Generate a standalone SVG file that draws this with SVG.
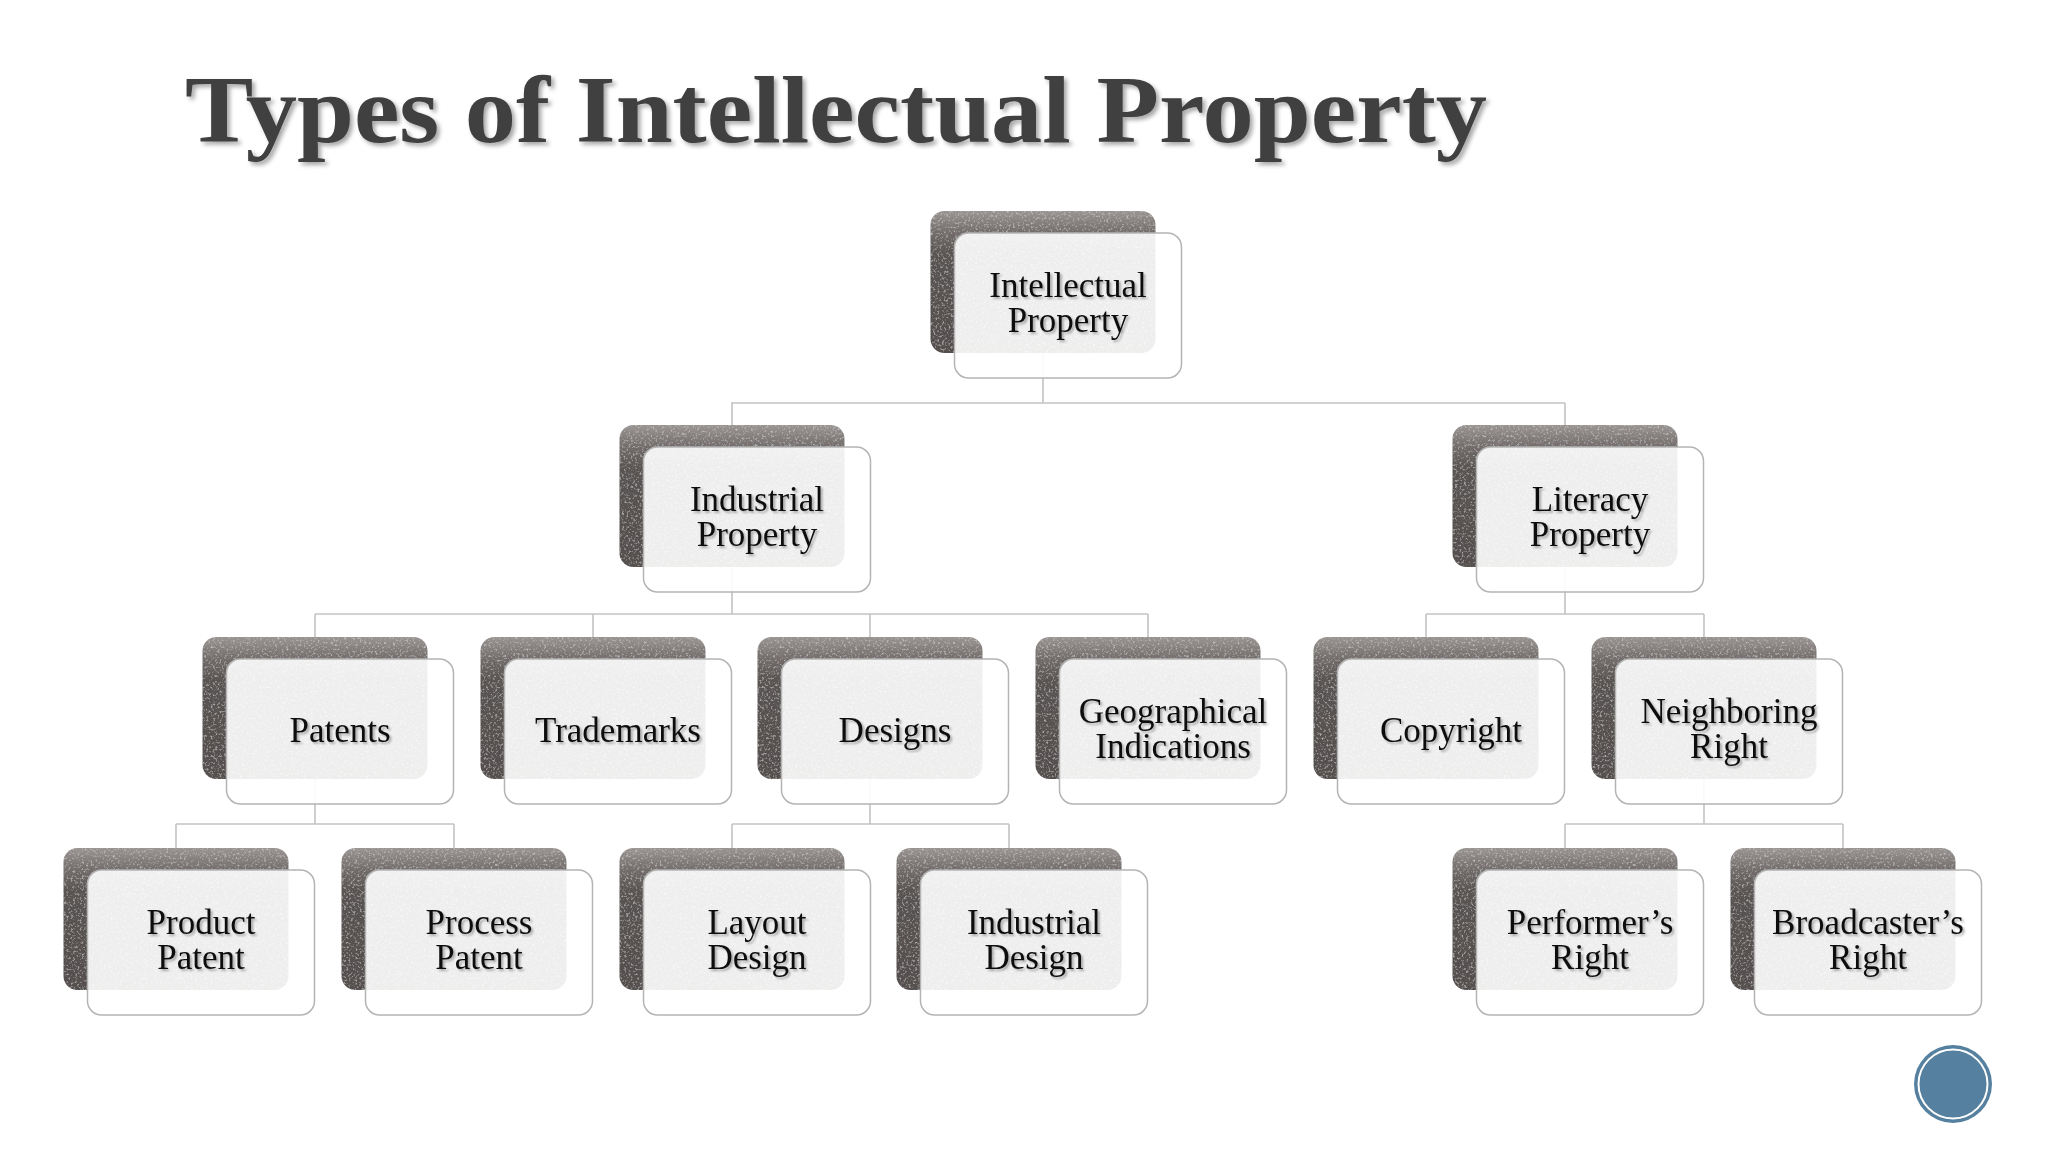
<svg xmlns="http://www.w3.org/2000/svg" width="2048" height="1152" viewBox="0 0 2048 1152">
<defs>
  <linearGradient id="backGrad" x1="0" y1="0" x2="0" y2="1">
    <stop offset="0" stop-color="#9a9493"/>
    <stop offset="0.15" stop-color="#736d6c"/>
    <stop offset="0.3" stop-color="#5a5453"/>
    <stop offset="1" stop-color="#554f4e"/>
  </linearGradient>
  <filter id="granite" x="0" y="0" width="1" height="1">
    <feTurbulence type="fractalNoise" baseFrequency="0.45" numOctaves="2" seed="7" result="n"/>
    <feColorMatrix in="n" type="matrix" values="0 0 0 0 1  0 0 0 0 1  0 0 0 0 1  3 0 0 0 -1.6" result="speck"/>
    <feComposite in="speck" in2="SourceAlpha" operator="in" result="speckIn"/>
    <feComponentTransfer in="speckIn" result="speckSoft">
      <feFuncA type="linear" slope="0.4"/>
    </feComponentTransfer>
    <feMerge>
      <feMergeNode in="SourceGraphic"/>
      <feMergeNode in="speckSoft"/>
    </feMerge>
  </filter>
  <filter id="txtShadow" x="-10%" y="-30%" width="120%" height="160%">
    <feDropShadow dx="2" dy="2" stdDeviation="1.2" flood-color="#000" flood-opacity="0.3"/>
  </filter>
  <filter id="titleShadow" x="-5%" y="-30%" width="110%" height="160%">
    <feDropShadow dx="3" dy="3" stdDeviation="2" flood-color="#000" flood-opacity="0.35"/>
  </filter>
  <style>
    .back { fill: url(#backGrad); filter: url(#granite); }
    .front { fill: #ffffff; fill-opacity: 0.9; stroke: #b4b4b4; stroke-width: 1.5; }
    .lbl { font-family: "Liberation Serif", "Times New Roman", serif; font-size: 35px; fill: #111111; text-anchor: middle; filter: url(#txtShadow); }
    .conn { fill: none; stroke: #c3c3c3; stroke-width: 1.6; }
    .title { font-family: "Liberation Serif", "Times New Roman", serif; font-weight: bold; font-size: 96px; fill: #404040; filter: url(#titleShadow); }
  </style>
</defs>

<rect x="0" y="0" width="2048" height="1152" fill="#ffffff"/>

<text class="title" x="185" y="142" textLength="1302" lengthAdjust="spacingAndGlyphs">Types of Intellectual Property</text>

<g id="connectors">
  <path class="conn" d="M1043 353 V403 M731 403 H1565 M732 403 V425 M1565 403 V425"/>
  <path class="conn" d="M732 568 V614 M315 614 H1148 M315 614 V637 M593 614 V637 M870 614 V637 M1148 614 V637"/>
  <path class="conn" d="M1565 568 V614 M1426 614 H1704 M1426 614 V637 M1704 614 V637"/>
  <path class="conn" d="M315 778 V824 M176 824 H454 M176 824 V848 M454 824 V848"/>
  <path class="conn" d="M870 778 V824 M732 824 H1009 M732 824 V848 M1009 824 V848"/>
  <path class="conn" d="M1704 778 V824 M1565 824 H1843 M1565 824 V848 M1843 824 V848"/>
</g>

<g id="node-intellectual-property">
  <rect class="back" x="930.5" y="211" width="225" height="142" rx="14"/>
  <rect class="front" x="954.5" y="233" width="227" height="145" rx="14"/>
  <text class="lbl" x="1068" y="297">Intellectual</text>
  <text class="lbl" x="1068" y="332">Property</text>
</g>

<g id="node-industrial-property">
  <rect class="back" x="619.5" y="425" width="225" height="142" rx="14"/>
  <rect class="front" x="643.5" y="447" width="227" height="145" rx="14"/>
  <text class="lbl" x="757" y="511">Industrial</text>
  <text class="lbl" x="757" y="546">Property</text>
</g>

<g id="node-literacy-property">
  <rect class="back" x="1452.5" y="425" width="225" height="142" rx="14"/>
  <rect class="front" x="1476.5" y="447" width="227" height="145" rx="14"/>
  <text class="lbl" x="1590" y="511">Literacy</text>
  <text class="lbl" x="1590" y="546">Property</text>
</g>

<g id="node-patents">
  <rect class="back" x="202.5" y="637" width="225" height="142" rx="14"/>
  <rect class="front" x="226.5" y="659" width="227" height="145" rx="14"/>
  <text class="lbl" x="340" y="742">Patents</text>
</g>

<g id="node-trademarks">
  <rect class="back" x="480.5" y="637" width="225" height="142" rx="14"/>
  <rect class="front" x="504.5" y="659" width="227" height="145" rx="14"/>
  <text class="lbl" x="618" y="742">Trademarks</text>
</g>

<g id="node-designs">
  <rect class="back" x="757.5" y="637" width="225" height="142" rx="14"/>
  <rect class="front" x="781.5" y="659" width="227" height="145" rx="14"/>
  <text class="lbl" x="895" y="742">Designs</text>
</g>

<g id="node-geographical-indications">
  <rect class="back" x="1035.5" y="637" width="225" height="142" rx="14"/>
  <rect class="front" x="1059.5" y="659" width="227" height="145" rx="14"/>
  <text class="lbl" x="1173" y="723">Geographical</text>
  <text class="lbl" x="1173" y="758">Indications</text>
</g>

<g id="node-copyright">
  <rect class="back" x="1313.5" y="637" width="225" height="142" rx="14"/>
  <rect class="front" x="1337.5" y="659" width="227" height="145" rx="14"/>
  <text class="lbl" x="1451" y="742">Copyright</text>
</g>

<g id="node-neighboring-right">
  <rect class="back" x="1591.5" y="637" width="225" height="142" rx="14"/>
  <rect class="front" x="1615.5" y="659" width="227" height="145" rx="14"/>
  <text class="lbl" x="1729" y="723">Neighboring</text>
  <text class="lbl" x="1729" y="758">Right</text>
</g>

<g id="node-product-patent">
  <rect class="back" x="63.5" y="848" width="225" height="142" rx="14"/>
  <rect class="front" x="87.5" y="870" width="227" height="145" rx="14"/>
  <text class="lbl" x="201" y="934">Product</text>
  <text class="lbl" x="201" y="969">Patent</text>
</g>

<g id="node-process-patent">
  <rect class="back" x="341.5" y="848" width="225" height="142" rx="14"/>
  <rect class="front" x="365.5" y="870" width="227" height="145" rx="14"/>
  <text class="lbl" x="479" y="934">Process</text>
  <text class="lbl" x="479" y="969">Patent</text>
</g>

<g id="node-layout-design">
  <rect class="back" x="619.5" y="848" width="225" height="142" rx="14"/>
  <rect class="front" x="643.5" y="870" width="227" height="145" rx="14"/>
  <text class="lbl" x="757" y="934">Layout</text>
  <text class="lbl" x="757" y="969">Design</text>
</g>

<g id="node-industrial-design">
  <rect class="back" x="896.5" y="848" width="225" height="142" rx="14"/>
  <rect class="front" x="920.5" y="870" width="227" height="145" rx="14"/>
  <text class="lbl" x="1034" y="934">Industrial</text>
  <text class="lbl" x="1034" y="969">Design</text>
</g>

<g id="node-performers-right">
  <rect class="back" x="1452.5" y="848" width="225" height="142" rx="14"/>
  <rect class="front" x="1476.5" y="870" width="227" height="145" rx="14"/>
  <text class="lbl" x="1590" y="934">Performer’s</text>
  <text class="lbl" x="1590" y="969">Right</text>
</g>

<g id="node-broadcasters-right">
  <rect class="back" x="1730.5" y="848" width="225" height="142" rx="14"/>
  <rect class="front" x="1754.5" y="870" width="227" height="145" rx="14"/>
  <text class="lbl" x="1868" y="934">Broadcaster’s</text>
  <text class="lbl" x="1868" y="969">Right</text>
</g>

<g id="slide-badge">
  <circle cx="1953" cy="1084" r="39" fill="#55809f"/>
  <circle cx="1953" cy="1084" r="34.5" fill="none" stroke="#ffffff" stroke-width="2"/>
</g>
</svg>
